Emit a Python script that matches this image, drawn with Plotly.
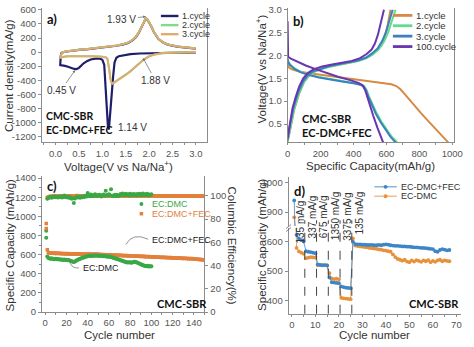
import plotly.graph_objects as go

W, H = 474, 347

# ---------------- (a) cyclic voltammetry ----------------
cv1_v = [3.0, 2.8, 2.6, 2.4, 2.2, 2.0, 1.8, 1.6, 1.45, 1.35,
         1.3, 1.26, 1.23, 1.2, 1.17, 1.14, 1.12, 1.10, 1.08, 1.06,
         1.04, 1.0, 0.95, 0.88, 0.82, 0.75, 0.68, 0.6, 0.5, 0.45,
         0.4, 0.35, 0.3, 0.25, 0.2, 0.15, 0.1,
         0.1, 0.11, 0.13, 0.2, 0.3, 0.5, 0.7, 0.9, 1.1, 1.3,
         1.45, 1.55, 1.65, 1.72, 1.78, 1.83, 1.87, 1.9, 1.93, 1.96,
         2.0, 2.05, 2.1, 2.15, 2.2, 2.3, 2.4, 2.6, 2.8, 3.0]
cv1_i = [-5, -7, -9, -11, -13, -16, -20, -30, -45, -60,
         -80, -150, -350, -650, -920, -1100, -1070, -850, -560, -320,
         -180, -110, -95, -90, -92, -105, -125, -160, -225, -242,
         -240, -232, -218, -205, -196, -190, -185,
         -185, -60, -10, 5, 15, 30, 42, 55, 70, 90,
         110, 130, 170, 215, 275, 345, 415, 458, 480, 465,
         425, 360, 285, 225, 185, 135, 105, 78, 62, 50]

cv2_v = [3.0, 2.6, 2.3, 2.1, 2.0, 1.88, 1.8, 1.7, 1.6, 1.5,
         1.4, 1.32, 1.26, 1.22, 1.19, 1.17, 1.15, 1.13, 1.11, 1.08,
         1.0, 0.8, 0.6, 0.4, 0.25, 0.15, 0.1,
         0.1, 0.12, 0.15, 0.2, 0.3, 0.5, 0.7, 0.9, 1.1, 1.3,
         1.45, 1.55, 1.65, 1.72, 1.78, 1.83, 1.87, 1.9, 1.93, 1.96,
         2.0, 2.05, 2.1, 2.15, 2.2, 2.3, 2.4, 2.6, 2.8, 3.0]
cv2_i = [0, -4, -11, -36, -60, -105, -155, -212, -268, -318,
         -366, -405, -432, -444, -426, -372, -268, -160, -100, -78,
         -66, -58, -55, -55, -59, -70, -82,
         -82, -38, -6, 9, 19, 33, 46, 59, 74, 94,
         114, 136, 176, 221, 281, 351, 421, 463, 483, 469,
         429, 363, 289, 229, 189, 139, 109, 81, 65, 53]

cv3_v = [3.0, 2.6, 2.3, 2.1, 2.0, 1.88, 1.8, 1.7, 1.6, 1.5,
         1.4, 1.32, 1.26, 1.22, 1.19, 1.17, 1.15, 1.13, 1.11, 1.08,
         1.0, 0.8, 0.6, 0.4, 0.25, 0.15, 0.1,
         0.1, 0.12, 0.15, 0.2, 0.3, 0.5, 0.7, 0.9, 1.1, 1.3,
         1.45, 1.55, 1.65, 1.72, 1.78, 1.83, 1.87, 1.9, 1.93, 1.96,
         2.0, 2.05, 2.1, 2.15, 2.2, 2.3, 2.4, 2.6, 2.8, 3.0]
cv3_i = [0, -4, -12, -38, -62, -110, -160, -220, -275, -325,
         -372, -412, -438, -450, -430, -370, -260, -150, -95, -75,
         -65, -58, -55, -55, -60, -72, -85,
         -85, -40, -8, 8, 18, 32, 45, 58, 73, 93,
         113, 135, 175, 220, 280, 350, 420, 462, 482, 468,
         428, 362, 288, 228, 188, 138, 108, 80, 64, 52]

cv_ticks = [-1200, -1000, -800, -600, -400, -200, 0, 200, 400, 600]
cv_tick_text = ["-1200", "-1000", "-800", "-600", "-400", "-200", "0", "200", "400", "600"]

# ---------------- (b) galvanostatic profiles ----------------
c1_dis_cap = [0, 3, 10, 30, 70, 130, 200, 280, 360, 440,
              520, 590, 630, 660, 685, 710, 740, 775, 810, 850,
              890, 930, 975]
c1_dis_v = [1.88, 1.78, 1.73, 1.69, 1.65, 1.61, 1.58, 1.54, 1.49, 1.45,
            1.42, 1.39, 1.37, 1.33, 1.26, 1.16, 1.03, 0.88, 0.74, 0.58,
            0.42, 0.27, 0.1]
c1_chg_cap = [0, 15, 40, 70, 100, 130, 170, 220, 280, 340,
              400, 450, 500, 540, 570, 590, 605, 615, 625]
c1_chg_v = [0.1, 0.4, 0.82, 1.17, 1.42, 1.56, 1.66, 1.73, 1.78, 1.82,
            1.86, 1.91, 1.99, 2.1, 2.22, 2.4, 2.62, 2.82, 3.0]

c2_dis_cap = [0, 4, 15, 40, 80, 130, 190, 260, 330, 400,
              440, 465, 480, 495, 515, 540, 570, 600, 630, 665]
c2_dis_v = [1.95, 1.87, 1.8, 1.72, 1.64, 1.58, 1.53, 1.48, 1.44, 1.4,
            1.37, 1.33, 1.24, 1.1, 0.93, 0.74, 0.55, 0.38, 0.23, 0.1]
c2_chg_cap = [0, 15, 40, 70, 100, 130, 165, 210, 260, 320,
              380, 430, 480, 520, 555, 585, 610, 630, 645, 655]
c2_chg_v = [0.12, 0.42, 0.83, 1.18, 1.42, 1.56, 1.65, 1.71, 1.76, 1.8,
            1.84, 1.88, 1.94, 2.03, 2.14, 2.3, 2.5, 2.72, 2.9, 3.0]

c3_dis_cap = [0, 4, 15, 40, 80, 130, 190, 260, 330, 400,
              440, 462, 477, 492, 510, 535, 565, 595, 625, 655]
c3_dis_v = [1.92, 1.85, 1.79, 1.71, 1.63, 1.57, 1.52, 1.47, 1.43, 1.39,
            1.36, 1.32, 1.23, 1.08, 0.92, 0.73, 0.54, 0.37, 0.22, 0.1]
c3_chg_cap = [0, 12, 35, 65, 95, 125, 160, 205, 255, 315,
              375, 425, 475, 515, 548, 575, 598, 615, 628, 638]
c3_chg_v = [0.15, 0.44, 0.85, 1.2, 1.44, 1.58, 1.66, 1.72, 1.77, 1.81,
            1.85, 1.89, 1.95, 2.05, 2.16, 2.32, 2.52, 2.74, 2.9, 3.0]

c100_dis_cap = [0, 1, 3, 20, 60, 110, 170, 240, 310, 380,
                430, 455, 470, 485, 500, 520, 545, 565, 580]
c100_dis_v = [2.75, 2.02, 1.97, 1.93, 1.86, 1.78, 1.7, 1.61, 1.53, 1.46,
              1.4, 1.35, 1.25, 1.08, 0.9, 0.68, 0.42, 0.24, 0.1]
c100_chg_cap = [0, 10, 30, 50, 70, 95, 125, 160, 210, 270,
                330, 390, 440, 480, 510, 530, 548, 562, 574, 585]
c100_chg_v = [0.2, 0.42, 0.85, 1.1, 1.32, 1.5, 1.62, 1.7, 1.76, 1.8,
              1.84, 1.88, 1.94, 2.03, 2.13, 2.26, 2.45, 2.66, 2.85, 3.0]

# ---------------- (c) long-term cycling ----------------
fec_cap = [925, 650, 622, 618, 615, 619, 614, 617, 613, 616,
           612, 615, 611, 614, 610, 613, 609, 612, 610, 608,
           611, 607, 610, 608, 606, 609, 607, 605, 608, 606,
           609, 605, 608, 606, 604, 607, 605, 608, 604, 606,
           603, 606, 604, 602, 605, 603, 606, 602, 604, 601,
           603, 600, 602, 599, 601, 598, 600, 597, 599, 596,
           598, 595, 597, 594, 596, 593, 595, 592, 594, 591,
           593, 590, 592, 589, 591, 588, 590, 587, 589, 586,
           588, 585, 587, 584, 586, 583, 585, 582, 584, 581,
           583, 580, 582, 579, 581, 578, 580, 577, 576, 578,
           575, 577, 574, 576, 573, 575, 572, 574, 571, 573,
           570, 572, 569, 571, 568, 570, 567, 569, 566, 568,
           565, 567, 564, 566, 563, 565, 562, 564, 561, 563,
           560, 562, 559, 561, 558, 560, 557, 559, 556, 554,
           556, 553, 551, 553, 550, 548, 550, 547, 545, 543]
dmc_cap = [850, 580, 565, 560, 557, 562, 555, 558, 553, 556,
           551, 554, 549, 552, 547, 550, 545, 548, 543, 546,
           541, 544, 539, 535, 530, 526, 522, 528, 535, 542,
           548, 553, 558, 562, 566, 570, 573, 577, 580, 583,
           585, 588, 586, 590, 587, 591, 588, 592, 589, 590,
           587, 589, 585, 587, 583, 585, 581, 583, 578, 580,
           578, 575, 572, 568, 565, 561, 558, 554, 550, 546,
           542, 538, 534, 530, 526, 522, 519, 521, 517, 520,
           516, 519, 523, 527, 524, 520, 515, 510, 505, 500,
           495, 490, 486, 482, 479, 483, 477, 481, 476, 480]
fec_ce = [72,
          98.6, 99.1, 99.4, 99.6, 99.8, 99.5, 99.9, 99.7, 100.0, 99.6,
          99.8, 100.1, 99.7, 99.9, 100.2, 99.8, 99.6, 100.0, 99.9, 100.1,
          99.7, 99.9, 100.2, 99.8, 100.0, 99.7, 100.1, 99.9, 100.3, 99.8,
          100.0, 99.9, 100.2, 99.7, 100.1, 99.8, 100.0, 100.2, 99.9, 100.1,
          99.8, 100.0, 100.3, 99.9, 100.1, 99.8, 100.2, 100.0, 99.9, 100.1,
          100.0, 99.8, 100.2, 99.9, 100.1, 100.0, 99.8, 100.2, 100.0, 99.9,
          100.1, 99.9, 100.2, 100.0, 99.8, 100.1, 99.9, 100.0, 100.2, 99.9,
          100.0, 100.1, 99.8, 100.0, 100.2, 99.9, 100.1, 100.0, 99.8, 100.1,
          99.9, 100.0, 100.2, 99.9, 100.1, 100.0, 99.8, 100.1, 99.9, 100.0,
          100.2, 99.9, 100.0, 100.1, 99.8, 100.0, 100.1, 99.9, 100.0, 100.2,
          99.9, 100.0, 100.1, 99.8, 100.0, 99.9, 100.1, 100.0, 99.8, 100.0,
          100.1, 99.9, 100.0, 100.2, 99.9, 100.0, 99.8, 100.1, 99.9, 100.0,
          100.0, 99.9, 100.1, 99.8, 100.0, 100.1, 99.9, 100.0, 99.8, 100.0,
          100.1, 99.9, 100.0, 99.8, 100.0, 100.1, 99.9, 99.8, 100.0, 99.9,
          100.0, 99.8, 99.9, 100.0, 99.8, 99.9, 99.7, 99.9, 99.8]
dmc_ce = [64, 97.5, 98.2, 98.6, 99.0, 98.4, 99.2, 98.8, 99.4, 98.9,
          99.1, 98.6, 99.3, 98.9, 99.6, 98.7, 99.2, 100.4, 99.0, 98.8,
          99.3, 98.5, 99.1, 98.2, 97.6, 98.0, 94.0, 97.8, 98.6, 99.0,
          98.7, 99.2, 98.4, 99.0, 98.8, 99.4, 99.1, 100.2, 99.5, 102.5,
          100.6, 99.8, 101.2, 100.3, 99.7, 100.9, 101.5, 100.2, 99.9, 100.8,
          101.0, 100.4, 99.6, 100.7, 101.3, 100.1, 104.5, 100.9, 100.3, 101.4,
          100.6, 105.8, 100.2, 99.8, 100.5, 101.1, 100.0, 100.7, 99.9, 100.4,
          101.6, 100.8, 102.0, 101.3, 100.6, 101.8, 100.9, 101.5, 100.4, 101.9,
          101.2, 100.5, 101.7, 100.8, 101.4, 100.3, 101.6, 100.9, 101.8, 100.6,
          101.3, 102.1, 100.7, 101.5, 100.9, 101.8, 100.6, 101.2, 100.8, 101.4]
fec_cycles = list(range(1, len(fec_cap) + 1))
dmc_cycles = list(range(1, len(dmc_cap) + 1))

# ---------------- (d) rate capability ----------------
rate_fec = [940, 622, 610, 604, 600,
            567, 565, 564, 562, 560,
            522, 521, 520, 520, 519,
            478, 462, 461, 460, 459,
            448, 446, 444, 443, 442,
            598, 591, 590, 590, 589, 589, 588, 588, 588, 587, 587,
            588, 587, 589, 590, 589, 587, 586, 585, 585, 584,
            583, 583, 582, 582, 581, 580, 580, 579, 578, 578,
            577, 576, 575, 574, 567, 565, 571, 574, 572, 570, 571]
rate_dmc = [882, 578, 566, 562, 558,
            543, 545, 547, 546, 545,
            520, 520, 519, 520, 519,
            493, 474, 473, 474, 472,
            410, 408, 407, 406, 405,
            610, 586, 584, 583, 582, 581, 580, 578, 577, 576, 575,
            573, 572, 570, 569, 567, 565, 556, 547, 541, 538,
            535, 538, 532, 530, 536, 532, 537, 534, 531, 536,
            533, 537, 530, 534, 531, 536, 538, 533, 536, 534, 533]
rate_cycles = list(range(1, len(rate_fec) + 1))
rate_breaks = [5.5, 10.5, 15.5, 20.5, 25.5]
rate_labels = ["135 mA/g", "337 mA/g", "675 mA/g", "1350 mA/g", "3375 mA/g", "135 mA/g"]
rate_label_x = [3.6, 8.6, 13.6, 18.7, 23.6, 28.6]

# ---------------- colours ----------------
NAVY, GREEN_CV, TAN = "#1d1f6b", "#7fdc8c", "#e1aa6f"
B1, B2, B3, B100 = "#d58a45", "#5fdc8f", "#3c80c0", "#6a36b0"
C_DMC, C_FEC = "#39a845", "#e2803c"
D_FEC, D_DMC = "#3d85c6", "#e8913a"

FONT = "Liberation Sans"
AX = "#8c8c8c"
TITLE = 11.5


def px(x):
    return x / W


def py(y):
    return 1 - y / H


fig = go.Figure()

# (a)
for v, i, c, w in [(cv1_v, cv1_i, NAVY, 2.2), (cv2_v, cv2_i, GREEN_CV, 2.0), (cv3_v, cv3_i, TAN, 2.0)]:
    fig.add_trace(go.Scatter(x=v, y=i, mode="lines", line=dict(color=c, width=w),
                             xaxis="x", yaxis="y", showlegend=False))

# (b)
for cap, v, c in [(c1_dis_cap, c1_dis_v, B1), (c1_chg_cap, c1_chg_v, B1),
                  (c2_dis_cap, c2_dis_v, B2), (c2_chg_cap, c2_chg_v, B2),
                  (c3_dis_cap, c3_dis_v, B3), (c3_chg_cap, c3_chg_v, B3),
                  (c100_dis_cap, c100_dis_v, B100), (c100_chg_cap, c100_chg_v, B100)]:
    fig.add_trace(go.Scatter(x=cap, y=v, mode="lines", line=dict(color=c, width=2),
                             xaxis="x2", yaxis="y2", showlegend=False))

# (c)
fig.add_trace(go.Scatter(x=fec_cycles, y=fec_cap, mode="markers",
                         marker=dict(symbol="square", size=3.5, color=C_FEC),
                         xaxis="x3", yaxis="y3", showlegend=False))
fig.add_trace(go.Scatter(x=dmc_cycles, y=dmc_cap, mode="markers",
                         marker=dict(symbol="circle", size=4, color=C_DMC),
                         xaxis="x3", yaxis="y3", showlegend=False))
fig.add_trace(go.Scatter(x=fec_cycles, y=fec_ce, mode="markers",
                         marker=dict(symbol="square", size=3.5, color=C_FEC),
                         xaxis="x3", yaxis="y4", showlegend=False))
fig.add_trace(go.Scatter(x=dmc_cycles, y=dmc_ce, mode="markers",
                         marker=dict(symbol="circle", size=4, color=C_DMC),
                         xaxis="x3", yaxis="y4", showlegend=False))

# (d) drawn on both halves of the broken axis
for yax in ("y5", "y6"):
    fig.add_trace(go.Scatter(x=rate_cycles, y=rate_dmc, mode="lines+markers",
                             line=dict(color=D_DMC, width=0.8),
                             marker=dict(size=3.8, color=D_DMC),
                             xaxis="x4", yaxis=yax, showlegend=False))
    fig.add_trace(go.Scatter(x=rate_cycles, y=rate_fec, mode="lines+markers",
                             line=dict(color=D_FEC, width=0.8),
                             marker=dict(size=3.8, color=D_FEC),
                             xaxis="x4", yaxis=yax, showlegend=False))

tickfont = dict(family=FONT, size=9.5, color="#555")
base = dict(showline=True, linecolor=AX, linewidth=1, ticks="outside", ticklen=3,
            tickcolor=AX, tickfont=tickfont, showgrid=False, zeroline=False)

fig.update_layout(
    width=W, height=H, margin=dict(l=0, r=0, t=0, b=0),
    paper_bgcolor="white", plot_bgcolor="white", showlegend=False,
    xaxis=dict(base, domain=[px(40), px(209)], range=[-0.29, 3.23], anchor="y",
               tick0=0, dtick=0.5, tickformat=".1f", ticklen=2,
               minor=dict(ticks="outside", ticklen=2, dtick=0.25, tickcolor=AX)),
    yaxis=dict(base, domain=[py(142), py(4)], range=[-1283, 628], anchor="x",
               tickvals=cv_ticks, ticktext=cv_tick_text, mirror=True),
    xaxis2=dict(base, domain=[px(292), px(463)], range=[0, 1012], anchor="y2",
                dtick=200, ticklen=2,
                minor=dict(ticks="outside", ticklen=2, dtick=100, tickcolor=AX)),
    yaxis2=dict(base, domain=[py(142), py(4)], range=[0.1, 3.04], anchor="x2",
                tick0=0, dtick=0.5, tickformat=".1f", mirror=True),
    xaxis3=dict(base, domain=[px(40), px(206.7)], range=[-3, 150], anchor="y3",
                dtick=20, ticklen=2,
                minor=dict(ticks="outside", ticklen=2, dtick=10, tickcolor=AX)),
    yaxis3=dict(base, domain=[py(316.3), py(177)], range=[0, 1417], anchor="x3",
                dtick=200, minor=dict(ticks="outside", ticklen=2, dtick=100, tickcolor=AX)),
    yaxis4=dict(base, range=[0, 116.8], anchor="x3", overlaying="y3", side="right",
                dtick=20),
    xaxis4=dict(base, domain=[px(293), px(470)], range=[-1.4, 72], anchor="y5",
                dtick=10, ticklen=2,
                minor=dict(ticks="outside", ticklen=2, dtick=5, tickcolor=AX)),
    yaxis5=dict(base, domain=[py(318), py(230)], range=[356, 645], anchor="x4",
                dtick=100),
    yaxis6=dict(base, domain=[py(228), py(178)], range=[852, 1019], anchor="x4",
                dtick=100),
)

ann = []
shapes = []


def text(x, y, s, size=TITLE, color="#333", angle=0, xanchor="center", family=FONT, bold=False):
    if bold:
        s = "<b>" + s + "</b>"
    ann.append(dict(x=px(x), y=py(y), xref="paper", yref="paper", text=s, showarrow=False,
                    textangle=angle, xanchor=xanchor, yanchor="middle", align="left",
                    font=dict(family=family, size=size, color=color)))


# axis titles
text(6, 73, "Current density(mA/g)", angle=-90)
text(119, 166, "Voltage(V vs Na/Na<sup>+</sup>)")
text(265, 67, "Voltage(V vs Na/Na<sup>+</sup>)", angle=-90)
text(377, 166, "Specific Capacity(mAh/g)")
text(7, 248, "Specific Capacity (mAh/g)", angle=-90)
text(120, 340, "Cycle number")
text(235, 248, "Columbic Efficiency(%)", angle=90)
text(265, 247, "Specific Capacity (mAh/g)", angle=-90)
text(381, 340, "Cycle number")

# panel letters
for x, y, s in [(43, 15, "a)"), (295, 17, "b)"), (43, 187, "c)"), (297, 192, "d)")]:
    text(x, y, s, size=13, color="#111", xanchor="left", family="Lato", bold=True)

# cell / electrolyte labels
text(42, 122.5, "CMC-SBR<br>EC-DMC+FEC", size=10.5, color="#111", xanchor="left",
     family="Lato", bold=True)
text(305, 125, "CMC-SBR<br>EC-DMC+FEC", size=11, color="#111", xanchor="left",
     family="Lato", bold=True)
for x, y in [(156, 307), (414, 307)]:
    text(x, y, "CMC-SBR", size=11, color="#111", xanchor="left", family="Lato", bold=True)

# (a) peak annotations
arrow = dict(showarrow=True, arrowhead=2, arrowsize=0.7, arrowwidth=0.8, arrowcolor="#777",
             font=dict(family=FONT, size=10, color="#333"), xref="x", yref="y")
ann.append(dict(arrow, x=1.93, y=505, text="1.93 V", ax=-24, ay=3))
ann.append(dict(arrow, x=1.87, y=-85, text="1.88 V", ax=12, ay=22))
ann.append(dict(arrow, x=0.42, y=-255, text="0.45 V", ax=-14, ay=20))
ann.append(dict(arrow, x=1.14, y=-1105, text="1.14 V", ax=24, ay=-2, standoff=12))


# legends drawn as samples + text
def legend_line(x0, x1, y, color, label, size=9, width=2.4, marker=False):
    shapes.append(dict(type="line", xref="paper", yref="paper", x0=px(x0), x1=px(x1),
                       y0=py(y), y1=py(y), line=dict(color=color, width=width)))
    if marker:
        xm = (x0 + x1) / 2
        shapes.append(dict(type="circle", xref="paper", yref="paper",
                           x0=px(xm - 2), x1=px(xm + 2), y0=py(y + 2), y1=py(y - 2),
                           fillcolor=color, line=dict(color=color, width=0)))
    text(x1 + 2, y, label, size=size, color="#333", xanchor="left")


for y, c, s in [(12.3, NAVY, "1.cycle"), (21.7, GREEN_CV, "2.cycle"), (31, TAN, "3.cycle")]:
    legend_line(162, 180, y, c, s, size=9)
for y, c, s in [(11.7, B1, "1.cycle"), (22.3, B2, "2.cycle"), (33, B3, "3.cycle"), (43.7, B100, "100.cycle")]:
    legend_line(400, 420, y, c, s, size=9.5, width=2.8)
for y, c, s in [(187.7, D_FEC, "EC-DMC+FEC"), (197.3, D_DMC, "EC-DMC")]:
    legend_line(381, 404, y, c, s, size=9, width=0.9, marker=True)

# (c) marker legend
shapes.append(dict(type="circle", xref="paper", yref="paper", x0=px(140), x1=px(144),
                   y0=py(207.3), y1=py(203.3), fillcolor=C_DMC, line=dict(width=0)))
shapes.append(dict(type="rect", xref="paper", yref="paper", x0=px(140.2), x1=px(143.8),
                   y0=py(217.1), y1=py(213.5), fillcolor=C_FEC, line=dict(width=0)))
text(151, 205.3, "EC:DMC", size=9, color=C_DMC, xanchor="left")
text(151, 215.3, "EC:DMC+FEC", size=9, color=C_FEC, xanchor="left")

# (c) curve labels with curved leaders
text(151, 242, "EC:DMC+FEC", size=9, color="#222", xanchor="left")
text(80, 271, "EC:DMC", size=9, color="#222", xanchor="left")


def bezier(p0, c, p1):
    return "M {} {} Q {} {} {} {}".format(px(p0[0]), py(p0[1]), px(c[0]), py(c[1]),
                                          px(p1[0]), py(p1[1]))


shapes.append(dict(type="path", xref="paper", yref="paper",
                   path=bezier((126, 247), (133, 234), (149, 241.5)),
                   line=dict(color="#777", width=0.8)))
shapes.append(dict(type="path", xref="paper", yref="paper",
                   path=bezier((68, 262), (69, 272), (78, 271)),
                   line=dict(color="#777", width=0.8)))

# (d) rate segments
for xb in rate_breaks:
    shapes.append(dict(type="line", xref="x4", yref="paper", x0=xb, x1=xb,
                       y0=py(318), y1=py(222), line=dict(color="#444", width=1, dash="dash")))
for xl, s, yc in zip(rate_label_x, rate_labels, [224, 219, 218, 218, 218, 215]):
    ann.append(dict(x=xl, y=py(yc), xref="x4", yref="paper", text=s, showarrow=False,
                    textangle=-90, font=dict(family=FONT, size=10, color="#333")))

# broken-axis mark
for dy in (0, 3):
    shapes.append(dict(type="line", xref="paper", yref="paper",
                       x0=px(290.5), x1=px(295.5), y0=py(230.5 + dy), y1=py(226.5 + dy),
                       line=dict(color="#666", width=0.8)))

fig.update_layout(annotations=ann, shapes=shapes)
fig.write_html("out.html")
